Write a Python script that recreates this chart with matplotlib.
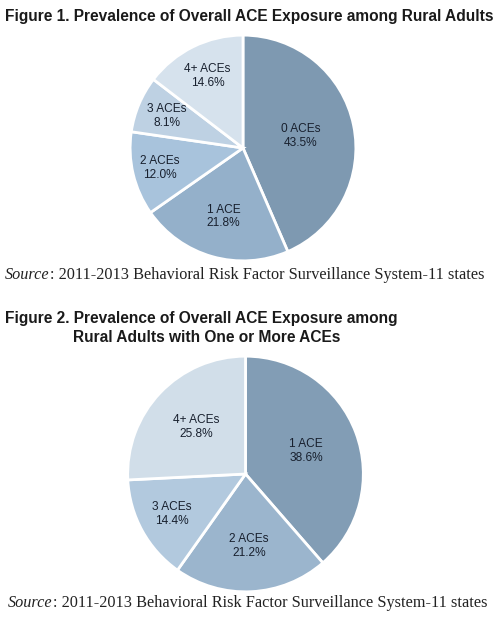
import matplotlib
matplotlib.use("Agg")
import matplotlib.pyplot as plt
import numpy as np

# ---- data ----
labels1 = ["0 ACEs", "1 ACE", "2 ACEs", "3 ACEs", "4+ ACEs"]
values1 = [43.5, 21.8, 12.0, 8.1, 14.6]
labels2 = ["1 ACE", "2 ACEs", "3 ACEs", "4+ ACEs"]
values2 = [38.6, 21.2, 14.4, 25.8]

title1 = "Figure 1. Prevalence of Overall ACE Exposure among Rural Adults"
title2a = "Figure 2. Prevalence of Overall ACE Exposure among"
title2b = "Rural Adults with One or More ACEs"
source_txt = ": 2011-2013 Behavioral Risk Factor Surveillance System-11 states"

# ---- style ----
colors1 = ["#7e99b1", "#94b0ca", "#a8c3dc", "#bed1e3", "#d6e2ed"]
colors2 = ["#829db5", "#9bb5cd", "#b2c9de", "#d1dee9"]
labr1 = [0.52, 0.63, 0.76, 0.73, 0.71]
labr2 = [0.55, 0.61, 0.71, 0.58]
txtcol = "#18202e"

W, H = 500, 622
fig = plt.figure(figsize=(W / 100, H / 100), dpi=100)
fig.patch.set_facecolor("white")

def fx(px):
    return px / W

def fy(py):
    return 1 - py / H

def pie_axes(cx, cy, R):
    ax = fig.add_axes([fx(cx - R), fy(cy + R), 2 * R / W, 2 * R / H])
    return ax

def draw_pie(ax, vals, labs, cols, radii):
    wedges, _ = ax.pie(vals, colors=cols, startangle=90, counterclock=False,
                       radius=1.0, wedgeprops=dict(edgecolor="white", linewidth=2.0))
    for w, lab, v, r in zip(wedges, labs, vals, radii):
        ang = np.deg2rad((w.theta1 + w.theta2) / 2)
        ax.text(r * np.cos(ang), r * np.sin(ang), f"{lab}\n{v:.1f}%",
                ha="center", va="center", fontsize=8.6, color=txtcol,
                family=["Liberation Sans", "DejaVu Sans"], linespacing=1.2)
    ax.set_xlim(-1.01, 1.01)
    ax.set_ylim(-1.01, 1.01)
    ax.axis("off")

fig.canvas.draw()
renderer = fig.canvas.get_renderer()

def fit_text(x, y, s, target_w, **kw):
    t = fig.text(x, y, s, **kw)
    bb = t.get_window_extent(renderer=renderer)
    fs = t.get_fontsize() * target_w / bb.width
    t.set_fontsize(fs)
    return t

bold_fam = ["Liberation Sans", "DejaVu Sans"]
serif_fam = ["Liberation Serif", "DejaVu Serif"]

# Figure 1
ax1 = pie_axes(243, 148, 114)
draw_pie(ax1, values1, labels1, colors1, labr1)
fit_text(fx(5), fy(17), title1, 488, fontsize=12, weight="bold",
         family=bold_fam, color="#1a1a1a", va="center", ha="left")

def source_line(x0, y, total_w):
    t1 = fig.text(fx(x0), fy(y), "Source", fontsize=10, style="italic",
                  family=serif_fam, color="#222222", va="center", ha="left")
    t2 = fig.text(fx(x0), fy(y), source_txt, fontsize=10,
                  family=serif_fam, color="#222222", va="center", ha="left")
    w1 = t1.get_window_extent(renderer=renderer).width
    w2 = t2.get_window_extent(renderer=renderer).width
    fs = 10 * total_w / (w1 + w2)
    t1.set_fontsize(fs)
    t2.set_fontsize(fs)
    w1 = t1.get_window_extent(renderer=renderer).width
    t2.set_position((fx(x0 + w1), fy(y)))

source_line(5, 275, 478)

# Figure 2
ax2 = pie_axes(245.5, 474, 119)
draw_pie(ax2, values2, labels2, colors2, labr2)
t = fit_text(fx(5), fy(319), title2a, 392, fontsize=12, weight="bold",
             family=bold_fam, color="#1a1a1a", va="center", ha="left")
fig.text(fx(73), fy(337), title2b, fontsize=t.get_fontsize(), weight="bold",
         family=bold_fam, color="#1a1a1a", va="center", ha="left")
source_line(8, 603, 478)

fig.savefig("out.png", dpi=100, facecolor="white")
